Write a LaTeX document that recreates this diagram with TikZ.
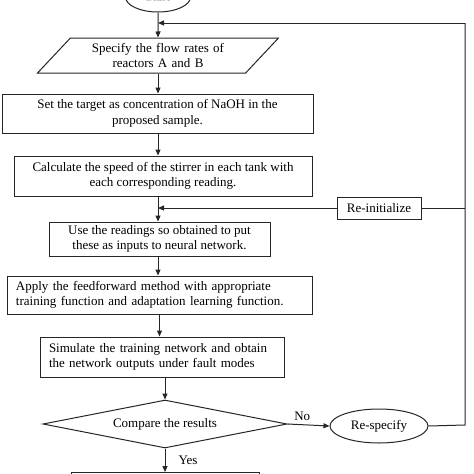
\documentclass[tikz,border=0pt]{standalone}
\usepackage{fontspec}
\setmainfont{Liberation Serif}
\usetikzlibrary{shapes.geometric,arrows.meta,calc}
\begin{document}
\begin{tikzpicture}[x=1pt,y=-1pt,
  every node/.style={font=\fontsize{13}{15.5}\selectfont, inner sep=0pt},
  line/.style={draw=black!85, line width=1pt},
  arr/.style={line, -{Triangle[length=6pt,width=5pt]}},
  boxc/.style={line, rectangle, align=center},
  boxl/.style={line, rectangle, align=left}]
\clip (0,0) rectangle (474,474);
\useasboundingbox (0,0) rectangle (474,474);
\fill[white] (0,0) rectangle (474,474);

\node[line, ellipse, minimum width=65pt, minimum height=30pt, text=black!30] (start) at (158,-3) {Start};
\node[line, trapezium, trapezium left angle=37, trapezium right angle=143, minimum height=35pt, minimum width=241pt, text width=150pt, align=center, trapezium stretches body] (para) at (158,55.5) {Specify the flow rates of\\reactors A and B};
\node[boxc, minimum width=311pt, minimum height=39pt] (b2) at (157.5,113.5) {Set the target as concentration of NaOH in the\\proposed sample.};
\node[boxc, minimum width=298pt, minimum height=40pt] (b3) at (163,176) {Calculate the speed of the stirrer in each tank with\\each corresponding reading.};
\node[boxc, minimum width=221pt, minimum height=34pt] (b4) at (159.5,239) {Use the readings so obtained to put\\these as inputs to neural network.};
\node[boxl, minimum width=305pt, minimum height=38pt, text width=287pt] (b5) at (159.5,295) {Apply the feedforward method with appropriate\\training function and adaptation learning function.};
\node[boxl, minimum width=244pt, minimum height=40pt, text width=226pt] (b6) at (162,357) {Simulate the training network and obtain\\the network outputs under fault modes};
\node[line, diamond, aspect=5.08, minimum width=244pt, minimum height=48pt, inner sep=0pt] (dia) at (165,424) {};
\node at (165,424) {Compare the results};
\node[line, ellipse, minimum width=98pt, minimum height=34pt] (resp) at (379,426) {Re-specify};
\node[boxc, minimum width=84pt, minimum height=22pt] (reinit) at (379,208) {Re-initialize};
\node[boxc, minimum width=188pt, minimum height=40pt, anchor=north] (b7) at (165,472) {};

\coordinate (j1) at (158,23);
\coordinate (j2) at (158,208);
\coordinate (cr) at (465,425);
\coordinate (ci) at (465,208);

\draw[arr] (start.south) -- (para.north);
\draw[arr] (para.south) -- (para.south |- b2.north);
\draw[arr] (b2.south -| para.south) -- (para.south |- b3.north);
\draw[arr] (b3.south -| para.south) -- (para.south |- b4.north);
\draw[arr] (b4.south -| para.south) -- (para.south |- b5.north);
\draw[arr] (b5.south -| b5.center) -- (b5.center |- b6.north);
\draw[arr] (b6.south -| dia.north) -- (dia.north);
\draw[arr] (dia.south) -- (b7.north);
\draw[arr] (dia.east) -- node[above=4pt, pos=0.35] {No} (resp.west);
\node at (188,460) {Yes};
\draw[line] (resp.east) -- (cr) -- (465,23) coordinate (ct);
\draw[arr] (ct) -- (j1);
\draw[line] (reinit.east) -- (ci);
\draw[arr] (reinit.west) -- (j2);
\end{tikzpicture}
\end{document}
